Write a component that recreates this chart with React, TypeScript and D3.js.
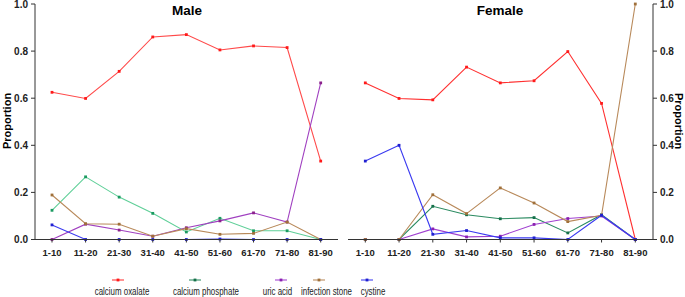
import React from "react";
import * as d3 from "d3";

const ageGroups = ["1-10", "11-20", "21-30", "31-40", "41-50", "51-60", "61-70", "71-80", "81-90"];
const yTicks = [0, 0.2, 0.4, 0.6, 0.8, 1.0];
const seriesNames = ["calcium oxalate", "calcium phosphate", "uric acid", "infection stone", "cystine"];

const maleOxalate = [0.625, 0.599, 0.714, 0.86, 0.87, 0.805, 0.822, 0.815, 0.333];
const malePhosphate = [0.124, 0.266, 0.18, 0.111, 0.032, 0.09, 0.037, 0.037, 0];
const maleUric = [0, 0.065, 0.04, 0.014, 0.05, 0.079, 0.113, 0.074, 0.665];
const maleInfection = [0.189, 0.067, 0.065, 0.014, 0.046, 0.022, 0.026, 0.074, 0];
const maleCystine = [0.062, 0, 0, 0, 0, 0.002, 0, 0, 0];

const femaleOxalate = [0.665, 0.599, 0.593, 0.732, 0.665, 0.674, 0.798, 0.578, 0];
const femalePhosphate = [0, 0, 0.141, 0.105, 0.088, 0.093, 0.028, 0.105, 0];
const femaleUric = [0, 0, 0.045, 0.011, 0.014, 0.064, 0.089, 0.1, 0];
const femaleInfection = [0, 0, 0.19, 0.11, 0.219, 0.155, 0.076, 0.103, 1.0];
const femaleCystine = [0.333, 0.4, 0.022, 0.038, 0.007, 0.007, 0, 0.103, 0];

const maleColors = ["#ff4a4a", "#5fcf98", "#a040c0", "#b8895a", "#3a3af0"];
const maleMarker = ["#ff1a1a", "#1a9a60", "#8a208a", "#a0703a", "#2020d0"];
const femaleColors = ["#ff3030", "#2a8a60", "#a040d0", "#b8895a", "#3a3af0"];
const femaleMarker = ["#ff1a1a", "#15704a", "#8a20b0", "#a0703a", "#2020d0"];

const font = "Arial, 'Liberation Sans', sans-serif";

function Panel({ data, colors, markers, x0, x1, axisX, side, title, titleX, xStart, xEnd }) {
  const x = d3.scalePoint<string>().domain(ageGroups).range([x0, x1]);
  const y = d3.scaleLinear().domain([0, 1]).range([239.5, 4]);
  const line = d3.line<number>().x((_, i) => x(ageGroups[i])!).y((d) => y(d));
  const dir = side === "left" ? -1 : 1;
  return (
    <g>
      <text x={titleX} y={15} textAnchor="middle" fontFamily={font} fontWeight="bold" fontSize={13.5}>{title}</text>
      {data.map((s, k) => (
        <g key={k}>
          <path d={line(s)!} fill="none" stroke={colors[k]} strokeWidth={1.1} />
          {s.map((v, i) => (
            <rect key={i} x={x(ageGroups[i])! - 1.4} y={y(v) - 1.4} width={2.8} height={2.8} fill={markers[k]} />
          ))}
        </g>
      ))}
      <line x1={xStart} x2={xEnd} y1={y(0)} y2={y(0)} stroke="#333" strokeWidth={1} />
      <line x1={axisX} x2={axisX} y1={y(1)} y2={y(0)} stroke="#333" strokeWidth={1} />
      {yTicks.map((t) => (
        <g key={t}>
          <line x1={axisX} x2={axisX + dir * 4} y1={y(t)} y2={y(t)} stroke="#333" />
          <text x={axisX + dir * 7} y={y(t) + 3.5} textAnchor={side === "left" ? "end" : "start"} fontFamily={font} fontWeight="bold" fontSize={10} fill="#222">{t.toFixed(1)}</text>
        </g>
      ))}
      {ageGroups.map((g) => (
        <g key={g}>
          <line x1={x(g)!} x2={x(g)!} y1={y(0)} y2={y(0) + 3} stroke="#333" />
          <text x={x(g)!} y={256} textAnchor="middle" fontFamily={font} fontWeight="bold" fontSize={9.5} fill="#222">{g}</text>
        </g>
      ))}
    </g>
  );
}

const legendPos = [
  { mx: 118, tx: 122 },
  { mx: 195, tx: 206 },
  { mx: 281, tx: 277.5 },
  { mx: 319, tx: 326.5 },
  { mx: 367, tx: 373 },
];

export default function App() {
  return (
    <svg width={685} height={297} style={{ position: "absolute", left: 0, top: 0, background: "#fff" }}>
      <Panel
        data={[maleOxalate, malePhosphate, maleUric, maleInfection, maleCystine]}
        colors={maleColors}
        markers={maleMarker}
        x0={52}
        x1={320.7}
        axisX={35}
        side="left"
        title="Male"
        titleX={187}
        xStart={35}
        xEnd={338}
      />
      <Panel
        data={[femaleOxalate, femalePhosphate, femaleUric, femaleInfection, femaleCystine]}
        colors={femaleColors}
        markers={femaleMarker}
        x0={365.3}
        x1={635.3}
        axisX={653}
        side="right"
        title="Female"
        titleX={500}
        xStart={348}
        xEnd={653}
      />
      <text transform="translate(11,121) rotate(-90)" textAnchor="middle" fontFamily={font} fontWeight="bold" fontSize={11}>Proportion</text>
      <text transform="translate(675,121) rotate(90)" textAnchor="middle" fontFamily={font} fontWeight="bold" fontSize={11}>Proportion</text>
      {seriesNames.map((n, k) => (
        <g key={n}>
          <line x1={legendPos[k].mx - 6} x2={legendPos[k].mx + 6} y1={280} y2={280} stroke={femaleColors[k]} strokeWidth={1.5} opacity={0.7} />
          <rect x={legendPos[k].mx - 1.4} y={278.6} width={2.8} height={2.8} fill={femaleMarker[k]} />
          <text transform={`translate(${legendPos[k].tx},295) scale(0.72,1)`} textAnchor="middle" fontFamily={font} fontSize={11} fill="#222">{n}</text>
        </g>
      ))}
    </svg>
  );
}
